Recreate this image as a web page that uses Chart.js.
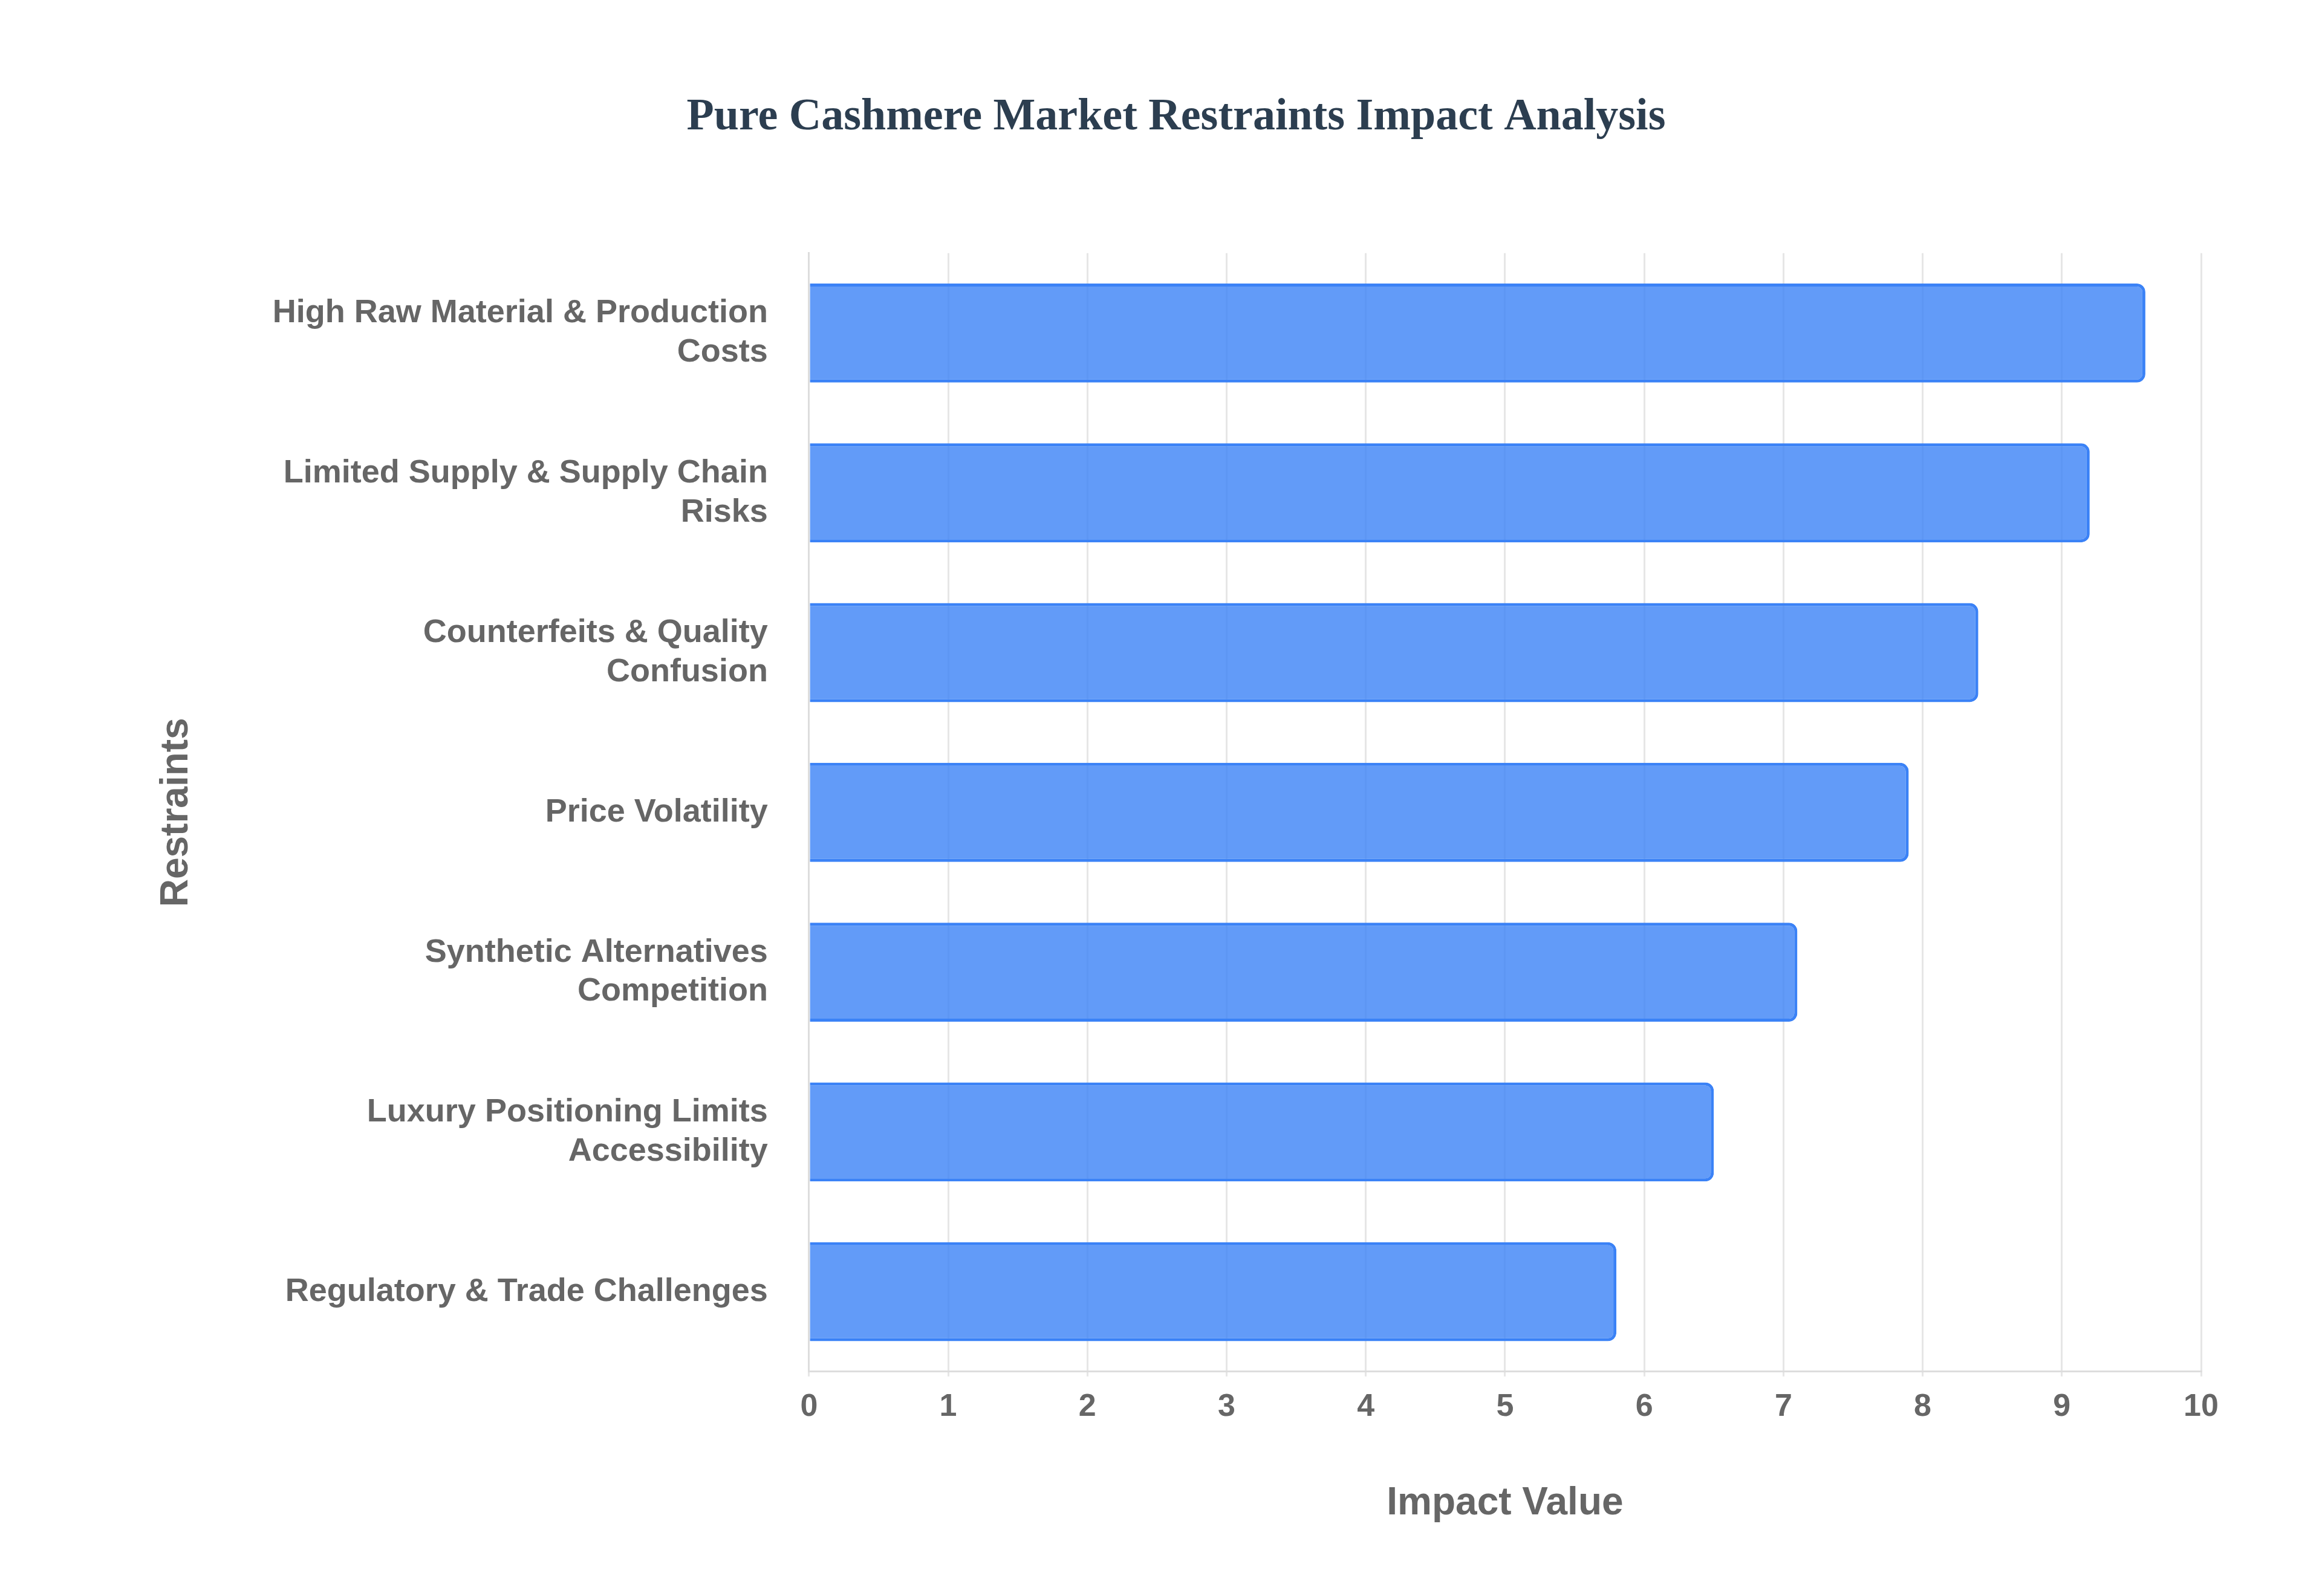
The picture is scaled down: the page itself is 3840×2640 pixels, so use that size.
<!DOCTYPE html>
<html>
<head>
<meta charset="utf-8">
<script src="https://cdn.jsdelivr.net/npm/chart.js@4.4.0/dist/chart.umd.min.js"></script>
<style>
  html, body { margin: 0; padding: 0; background: #ffffff; }
  canvas { display: block; }
</style>
</head>
<body>
<canvas id="chart" width="3840" height="2640"></canvas>
<script>
// Restraint categories (multi-line labels as in the picture)
const restraints = [
    ['High Raw Material & Production', 'Costs'],
    ['Limited Supply & Supply Chain', 'Risks'],
    ['Counterfeits & Quality', 'Confusion'],
    'Price Volatility',
    ['Synthetic Alternatives', 'Competition'],
    ['Luxury Positioning Limits', 'Accessibility'],
    'Regulatory & Trade Challenges'
];
const impactValues = [9.6, 9.2, 8.4, 7.9, 7.1, 6.5, 5.8];
const xTicks = [0, 1, 2, 3, 4, 5, 6, 7, 8, 9, 10];

const ctx = document.getElementById('chart').getContext('2d');
new Chart(ctx, {
    type: 'bar',
    data: {
        labels: restraints,
        datasets: [{
            label: 'Impact Value',
            data: impactValues,
            backgroundColor: 'rgba(59, 130, 246, 0.8)',
            borderColor: '#3b82f6',
            borderWidth: 5,
            borderRadius: 14,
            borderSkipped: 'start',
            barPercentage: 0.62,
            categoryPercentage: 1.0
        }]
    },
    options: {
        indexAxis: 'y',
        responsive: false,
        devicePixelRatio: 1,
        animation: false,
        layout: { padding: { top: 150, left: 250, right: 200, bottom: 110 } },
        plugins: {
            legend: { display: false },
            title: {
                display: true,
                text: 'Pure Cashmere Market Restraints Impact Analysis',
                color: '#2c3e50',
                font: { family: 'Liberation Serif', size: 74, weight: 'bold' },
                padding: { top: 0, bottom: 180 }
            }
        },
        scales: {
            x: {
                min: 0,
                max: 10,
                afterBuildTicks: axis => { axis.ticks = xTicks.map(v => ({ value: v })); },
                grid: { color: '#e6e6e6', lineWidth: 3 },
                border: { color: '#dddddd', width: 3 },
                ticks: {
                    color: '#666666',
                    padding: 20,
                    font: { family: 'Liberation Sans', size: 52, weight: 'bold' }
                },
                title: {
                    display: true,
                    text: 'Impact Value',
                    color: '#666666',
                    padding: { top: 70 },
                    font: { family: 'Liberation Sans', size: 64, weight: 'bold' }
                }
            },
            y: {
                grid: { display: false },
                border: { color: '#dddddd', width: 3 },
                ticks: {
                    color: '#666666',
                    padding: 60,
                    font: { family: 'Liberation Sans', size: 54, weight: 'bold' }
                },
                title: {
                    display: true,
                    text: 'Restraints',
                    color: '#666666',
                    padding: { bottom: 60 },
                    font: { family: 'Liberation Sans', size: 64, weight: 'bold' }
                }
            }
        }
    }
});
</script>
</body>
</html>
